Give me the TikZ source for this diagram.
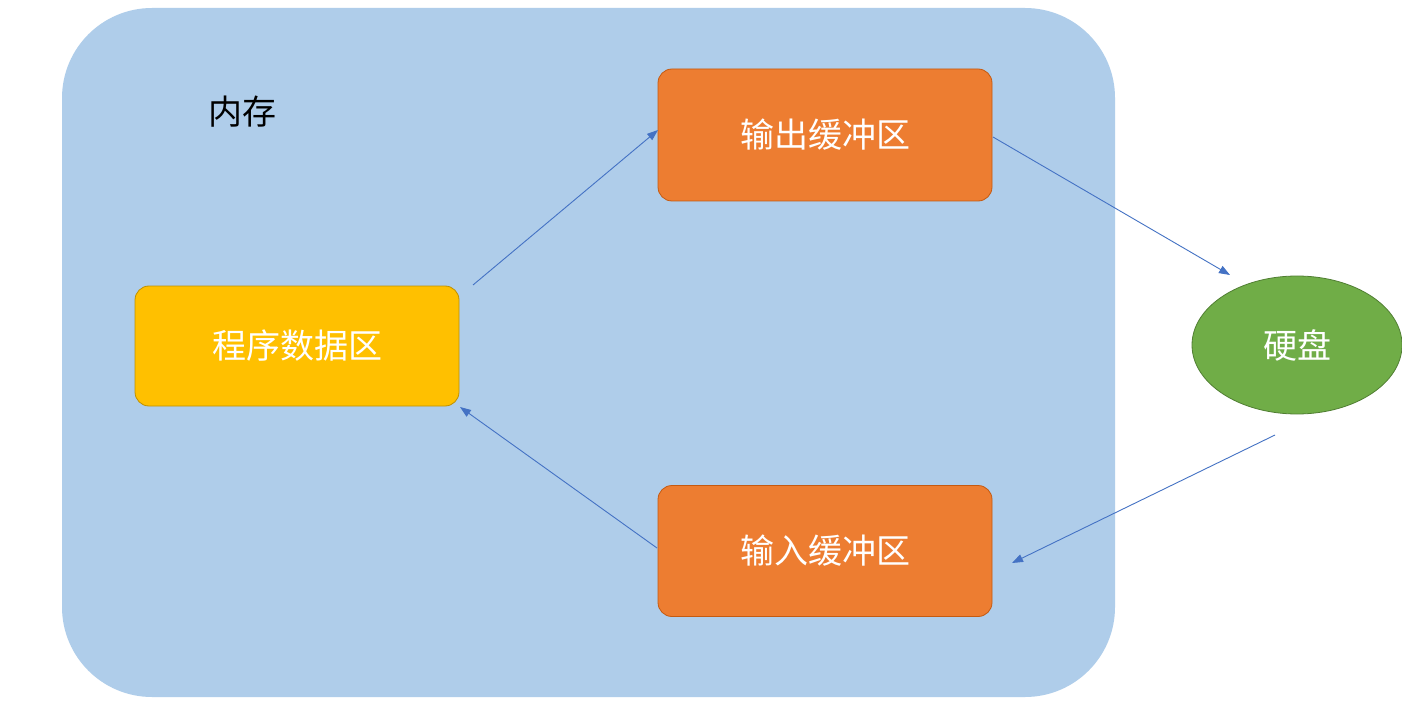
\documentclass[tikz,border=0pt]{standalone}
\usepackage{fontspec}
\setmainfont{Noto Sans CJK SC}
\usetikzlibrary{shapes.geometric,arrows.meta}
\definecolor{memblue}{HTML}{AFCDEA}
\definecolor{org}{HTML}{ED7D31}
\definecolor{orgd}{HTML}{C55A11}
\definecolor{yel}{HTML}{FFC000}
\definecolor{yeld}{HTML}{BF9000}
\definecolor{grn}{HTML}{70AD47}
\definecolor{grnd}{HTML}{507E32}
\definecolor{arr}{HTML}{4472C4}
\begin{document}
\begin{tikzpicture}[x=1pt,y=-1pt,
  box/.style={rounded corners=14pt,line width=0.8pt,text=white,font=\fontsize{34}{40}\selectfont,inner sep=0pt},
  conn/.style={arr,line width=0.9pt,-{Triangle[length=11pt,width=8pt]}}]
\useasboundingbox (0,0) rectangle (1402,711);
\fill[white] (0,0) rectangle (1402,711);
\fill[memblue,rounded corners=90pt] (62,8) rectangle (1115,697);
\node (mem) at (242,112) {\fontsize{34}{40}\selectfont 内存};
\node[box,fill=org,draw=orgd,minimum width=334pt,minimum height=132pt] (out) at (825,135) {输出缓冲区};
\node[box,fill=yel,draw=yeld,minimum width=324pt,minimum height=120pt] (prog) at (297,346) {程序数据区};
\node[box,fill=org,draw=orgd,minimum width=334pt,minimum height=131pt] (in) at (825,551) {输入缓冲区};
\node[ellipse,fill=grn,draw=grnd,line width=0.8pt,minimum width=210pt,minimum height=138pt,text=white,font=\fontsize{34}{40}\selectfont] (disk) at (1297,345) {硬盘};
\coordinate (a1) at (473,285); \coordinate (a2) at (658,130);
\coordinate (b1) at (993,137); \coordinate (b2) at (1230,275);
\coordinate (c1) at (1275,435); \coordinate (c2) at (1012,563);
\coordinate (d1) at (657,548); \coordinate (d2) at (460,407);
\draw[conn] (a1) -- (a2);
\draw[conn] (b1) -- (b2);
\draw[conn] (c1) -- (c2);
\draw[conn] (d1) -- (d2);
\end{tikzpicture}
\end{document}
